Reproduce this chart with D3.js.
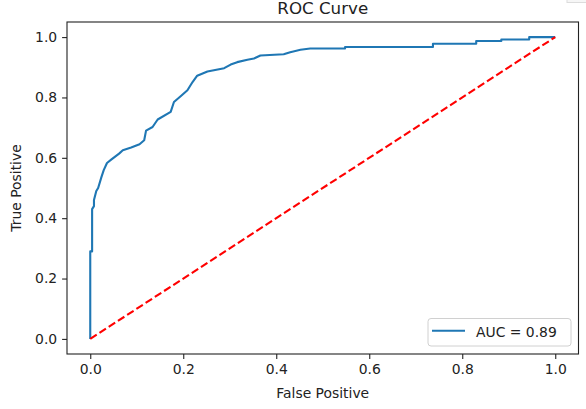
<!DOCTYPE html>
<html>
<head>
<meta charset="utf-8">
<script src="https://cdn.jsdelivr.net/npm/d3@7"></script>
<style>
  body { margin: 0; background: #fff; }
  text { font-family: "DejaVu Sans", sans-serif; }
</style>
</head>
<body>
<svg id="chart"></svg>
<script>
// ROC curve points (false positive rate, true positive rate)
const fpr = [0, 0, 0.004, 0.004, 0.008, 0.008, 0.013, 0.017, 0.024, 0.029, 0.036, 0.045,
  0.062, 0.07, 0.088, 0.106, 0.116, 0.12, 0.134, 0.145, 0.173, 0.18, 0.195, 0.209,
  0.22, 0.23, 0.252, 0.288, 0.302, 0.316, 0.338, 0.352, 0.366, 0.416, 0.43, 0.452,
  0.473, 0.548, 0.548, 0.737, 0.737, 0.83, 0.83, 0.884, 0.884, 0.944, 0.944, 1.0];
const tpr = [0, 0.29, 0.29, 0.43, 0.44, 0.46, 0.49, 0.50, 0.536, 0.559, 0.583, 0.594,
  0.614, 0.625, 0.634, 0.645, 0.658, 0.69, 0.702, 0.727, 0.752, 0.785, 0.805, 0.824,
  0.851, 0.872, 0.886, 0.897, 0.909, 0.917, 0.925, 0.929, 0.939, 0.943, 0.95, 0.958,
  0.962, 0.962, 0.967, 0.967, 0.978, 0.978, 0.987, 0.987, 0.992, 0.992, 1.0, 1.0];
const diagonal = [0, 1];
const ticks = [0, 0.2, 0.4, 0.6, 0.8, 1.0];
const legendLabel = "AUC = 0.89";

const width = 586;
const height = 409;
const margin = { top: 22, right: 7.5, bottom: 55, left: 67 };

const svg = d3.select("#chart").attr("width", width).attr("height", height);

// bit of window chrome peeking in at top right
svg.append("rect")
  .attr("x", 567).attr("y", -10).attr("width", 30).attr("height", 12.5)
  .attr("fill", "#f6f6f6").attr("stroke", "#dcdcdc");

const x = d3.scaleLinear().domain([-0.05, 1.05]).range([margin.left, width - margin.right]);
const y = d3.scaleLinear().domain([-0.05, 1.05]).range([height - margin.bottom, margin.top]);

const points = fpr.map((d, i) => [d, tpr[i]]);
const line = d3.line().x((d) => x(d[0])).y((d) => y(d[1]));

svg.append("path")
  .datum(points)
  .attr("d", line)
  .attr("fill", "none")
  .attr("stroke", "#1f77b4")
  .attr("stroke-width", 2.1)
  .attr("stroke-linejoin", "round");

svg.append("path")
  .datum(diagonal.map((d) => [d, d]))
  .attr("d", line)
  .attr("fill", "none")
  .attr("stroke", "#ff0000")
  .attr("stroke-width", 2.1)
  .attr("stroke-dasharray", "7.7,3.3");

// axes
const xAxis = svg.append("g")
  .attr("transform", `translate(0,${height - margin.bottom})`)
  .call(d3.axisBottom(x).tickValues(ticks).tickFormat(d3.format(".1f")).tickSize(4.9).tickPadding(4.9));
const yAxis = svg.append("g")
  .attr("transform", `translate(${margin.left},0)`)
  .call(d3.axisLeft(y).tickValues(ticks).tickFormat(d3.format(".1f")).tickSize(4.9).tickPadding(4.9));

[xAxis, yAxis].forEach((g) => {
  g.select(".domain").remove();
  g.selectAll("line").attr("stroke", "#222").attr("stroke-width", 1.1);
  g.selectAll("text").attr("fill", "#222").attr("font-size", "13.9px")
    .attr("font-family", "DejaVu Sans, sans-serif");
});

// frame
svg.append("rect")
  .attr("x", margin.left).attr("y", margin.top)
  .attr("width", width - margin.right - margin.left)
  .attr("height", height - margin.bottom - margin.top)
  .attr("fill", "none").attr("stroke", "#222").attr("stroke-width", 1.1);

// titles
svg.append("text")
  .attr("x", (margin.left + width - margin.right) / 2).attr("y", 14)
  .attr("text-anchor", "middle").attr("font-size", "16.7px").attr("fill", "#222")
  .text("ROC Curve");

svg.append("text")
  .attr("x", (margin.left + width - margin.right) / 2).attr("y", 398)
  .attr("text-anchor", "middle").attr("font-size", "13.9px").attr("fill", "#222")
  .text("False Positive");

svg.append("text")
  .attr("transform", `translate(21,${(margin.top + height - margin.bottom) / 2}) rotate(-90)`)
  .attr("text-anchor", "middle").attr("font-size", "13.9px").attr("fill", "#222")
  .text("True Positive");

// legend
const legend = svg.append("g").attr("transform", "translate(428,318.5)");
legend.append("rect")
  .attr("width", 143).attr("height", 27.5).attr("rx", 3)
  .attr("fill", "#fff").attr("fill-opacity", 0.8)
  .attr("stroke", "#d0d0d0").attr("stroke-width", 1);
legend.append("line")
  .attr("x1", 4).attr("x2", 37).attr("y1", 12.3).attr("y2", 12.3)
  .attr("stroke", "#1f77b4").attr("stroke-width", 2.1);
legend.append("text")
  .attr("x", 48).attr("y", 18.5)
  .attr("font-size", "13.9px").attr("fill", "#222")
  .text(legendLabel);
</script>
</body>
</html>
